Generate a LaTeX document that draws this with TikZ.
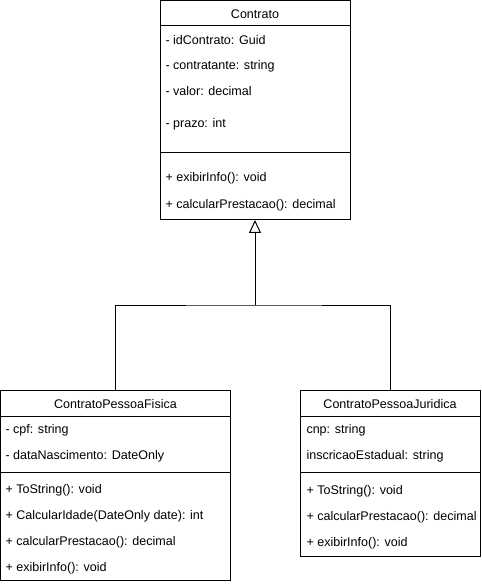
\documentclass[tikz,border=0pt]{standalone}
\usepackage{fontspec}
\setmainfont{Liberation Sans}
\usetikzlibrary{positioning,calc,arrows.meta}

\begin{document}
\begin{tikzpicture}[x=0.75pt,y=-0.75pt,line width=0.75pt]

    \tikzstyle{classbox}=[draw,fill=white,outer sep=0pt,inner sep=0pt,anchor=north west]
    \tikzstyle{title}=[font=\fontsize{9.4}{11}\selectfont,inner sep=0pt]
    \tikzstyle{member}=[font=\fontsize{9.4}{11}\selectfont,anchor=west,inner sep=0pt]
    \tikzstyle{inherit}=[-{Triangle[open,length=9.75pt,width=9pt]}]
      \coordinate (origo) at (0,0);

\useasboundingbox (origo) rectangle (481,584);

% Contrato
\node (contrato) [classbox,minimum width=142.5pt,minimum height=164.25pt] at (160,1) {};
\node (contrato_name) [title] at (255,14) {Contrato};
\draw (160,26) -- (350,26);
\node (c_id) [member] at (165,40) {- idContrato: Guid};
\node (c_contratante) [member] at (165,66) {- contratante: string};
\node (c_valor) [member] at (165,91) {- valor: decimal};
\node (c_prazo) [member] at (165,124) {- prazo: int};
\draw (160,153) -- (350,153);
\node (c_exibir) [member] at (165,178) {+ exibirInfo(): void};
\node (c_calcular) [member] at (165,205) {+ calcularPrestacao(): decimal};

% ContratoPessoaFisica
\node (fisica) [classbox,minimum width=172.5pt,minimum height=142.5pt] at (0.5,390) {};
\node (fisica_name) [title] at (115.5,404) {ContratoPessoaFisica};
\draw (0.5,416) -- (230.5,416);
\node (f_cpf) [member] at (5,430) {- cpf: string};
\node (f_data) [member] at (5,456) {- dataNascimento: DateOnly};
\draw (0.5,472) -- (230.5,472);
\node (f_tostring) [member] at (5,490) {+ ToString(): void};
\node (f_idade) [member] at (5,516) {+ CalcularIdade(DateOnly date): int};
\node (f_calcular) [member] at (5,542) {+ calcularPrestacao(): decimal};
\node (f_exibir) [member] at (5,568) {+ exibirInfo(): void};

% ContratoPessoaJuridica
\node (juridica) [classbox,minimum width=135pt,minimum height=124.5pt] at (300,390) {};
\node (juridica_name) [title] at (390,404) {ContratoPessoaJuridica};
\draw (300,416) -- (480,416);
\node (j_cnp) [member] at (306,430) {cnp: string};
\node (j_inscricao) [member] at (306,456) {inscricaoEstadual: string};
\draw (300,472) -- (480,472);
\node (j_tostring) [member] at (306,491) {+ ToString(): void};
\node (j_calcular) [member] at (306,517) {+ calcularPrestacao(): decimal};
\node (j_exibir) [member] at (306,543) {+ exibirInfo(): void};

% heranca
\coordinate (split) at (255,305);
\draw (fisica.north) |- (split) -| (juridica.north);
\draw [inherit] (split) -- (contrato.south);

\end{tikzpicture}
\end{document}
